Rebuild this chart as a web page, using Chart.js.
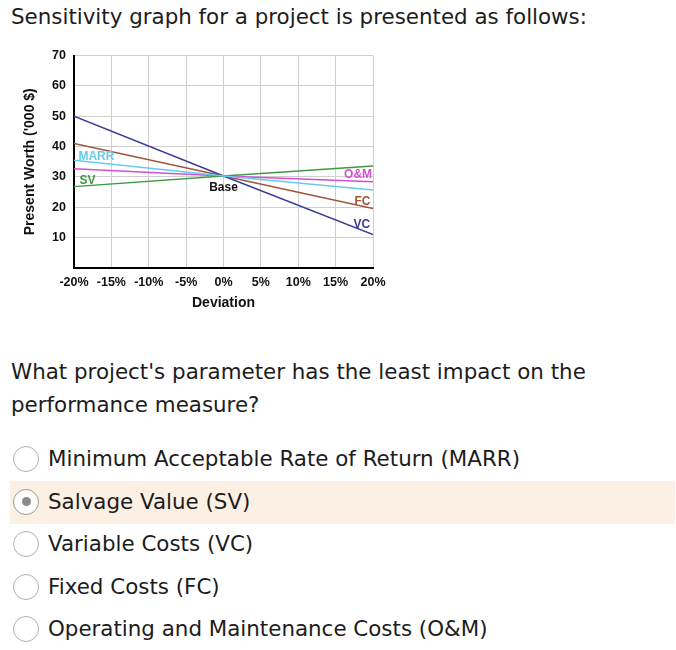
<!DOCTYPE html>
<html>
<head>
<meta charset="utf-8">
<script src="https://cdn.jsdelivr.net/npm/chart.js@4"></script>
<style>
  body { margin: 0; background: #fff; font-family: "DejaVu Sans", Verdana, sans-serif; color: #1c1c1c; }
  .t { position: absolute; left: 11px; font-size: 21.4px; line-height: 24px; white-space: nowrap; }
  #chartBox { position: absolute; left: 0; top: 40px; width: 400px; height: 280px; }
  .row { position: absolute; left: 10px; width: 665px; height: 43px; }
  .row.sel { background: #fcefe3; }
  .radio { position: absolute; left: 3px; top: 8px; width: 26px; height: 26px; border: 1px solid #b0b0b0; border-radius: 50%; background: #fff; box-sizing: border-box; }
  .radio.on { border-color: #9a9a9a; }
  .radio.on::after { content: ""; position: absolute; left: 7.5px; top: 7.5px; width: 9px; height: 9px; border-radius: 50%; background: #8a8a8a; }
  .row span { position: absolute; left: 38px; top: 9px; font-size: 21.4px; line-height: 24px; white-space: nowrap; }
</style>
</head>
<body>
<div class="t" style="top:5px">Sensitivity graph for a project is presented as follows:</div>
<div id="chartBox"><canvas id="myChart" width="400" height="280"></canvas></div>
<div class="t" style="top:360px">What project's parameter has the least impact on the</div>
<div class="t" style="top:393px">performance measure?</div>
<div id="options"></div>
<script>
var deviation = [-20, 0, 20],
  marr = [35.5, 30.3, 25.7],
  sv = [26.8, 30.3, 33.6],
  vc = [50, 30.3, 11],
  fc = [41, 30.3, 19.6],
  om = [32.7, 30.3, 28.4],
  seriesNames = ["MARR", "SV", "VC", "FC", "O&M"],
  seriesColors = ["#66ccee", "#3f9a45", "#3c3c98", "#a2553a", "#d34fd6"],
  labelSpots = [[-17, 36.6], [-18.2, 28.8], [18.5, 14.2], [18.6, 22], [18, 30.6]],
  xTicks = ["-20%", "-15%", "-10%", "-5%", "0%", "5%", "10%", "15%", "20%"],
  answers = [
    "Minimum Acceptable Rate of Return (MARR)",
    "Salvage Value (SV)",
    "Variable Costs (VC)",
    "Fixed Costs (FC)",
    "Operating and Maintenance Costs (O&M)"
  ],
  picked = 1;

var allValues = [marr, sv, vc, fc, om];

var datasets = seriesNames.map(function(name, i) {
  return {
    label: name,
    data: deviation.map(function(d, j) { return { x: d, y: allValues[i][j] }; }),
    borderColor: seriesColors[i],
    borderWidth: 1.4,
    pointRadius: 0,
    fill: false
  };
});

// names written next to the lines, and "Base" under the crossing
var lineLabels = {
  id: "lineLabels",
  afterDatasetsDraw: function(chart) {
    var c = chart.ctx, xs = chart.scales.x, ys = chart.scales.y;
    c.save();
    c.font = "bold 12px 'Liberation Sans', Arial, sans-serif";
    c.textAlign = "center";
    c.textBaseline = "middle";
    seriesNames.forEach(function(name, i) {
      c.fillStyle = seriesColors[i];
      c.fillText(name, xs.getPixelForValue(labelSpots[i][0]), ys.getPixelForValue(labelSpots[i][1]));
    });
    c.fillStyle = "#111";
    c.fillText("Base", xs.getPixelForValue(0), ys.getPixelForValue(26.6));
    c.restore();
  }
};

var tickFont = { family: "'Liberation Sans', Arial, sans-serif", size: 12.5, weight: "bold" };

myChart = new Chart(document.getElementById("myChart"), {
  type: "line",
  data: { datasets: datasets },
  plugins: [lineLabels],
  options: {
    responsive: false,
    animation: false,
    layout: { padding: { top: 10, right: 27, left: 0, bottom: 0 } },
    plugins: { legend: { display: false }, tooltip: { enabled: false } },
    scales: {
      x: {
        type: "linear",
        min: -20,
        max: 20,
        afterFit: function(s) { s.height = 52; },
        grid: { color: "#cfcfcf", drawTicks: false },
        border: { color: "#000", width: 2 },
        ticks: {
          stepSize: 5,
          padding: 7,
          color: "#111",
          font: tickFont,
          callback: function(v) { return xTicks[(v + 20) / 5]; }
        },
        title: {
          display: true,
          text: "Deviation",
          color: "#111",
          font: { family: "'Liberation Sans', Arial, sans-serif", size: 14, weight: "bold" },
          padding: { top: 0, bottom: 8 }
        }
      },
      y: {
        min: 0,
        max: 70,
        afterFit: function(s) { s.width = 74; },
        grid: { color: "#cfcfcf", drawTicks: false },
        border: { color: "#000", width: 2 },
        ticks: {
          stepSize: 10,
          padding: 8,
          color: "#111",
          font: tickFont,
          callback: function(v) { return v === 0 ? "" : v; }
        },
        title: {
          display: true,
          text: "Present Worth ('000 $)",
          color: "#111",
          font: { family: "'Liberation Sans', Arial, sans-serif", size: 14, weight: "bold" },
          padding: { top: 22, bottom: 0 }
        }
      }
    }
  }
});

var box = document.getElementById("options");
answers.forEach(function(text, i) {
  var row = document.createElement("div");
  row.className = "row" + (i === picked ? " sel" : "");
  row.style.top = (438 + i * 42.5) + "px";
  row.innerHTML = '<div class="radio' + (i === picked ? " on" : "") + '"></div><span></span>';
  row.querySelector("span").textContent = text;
  box.appendChild(row);
});
</script>
</body>
</html>
